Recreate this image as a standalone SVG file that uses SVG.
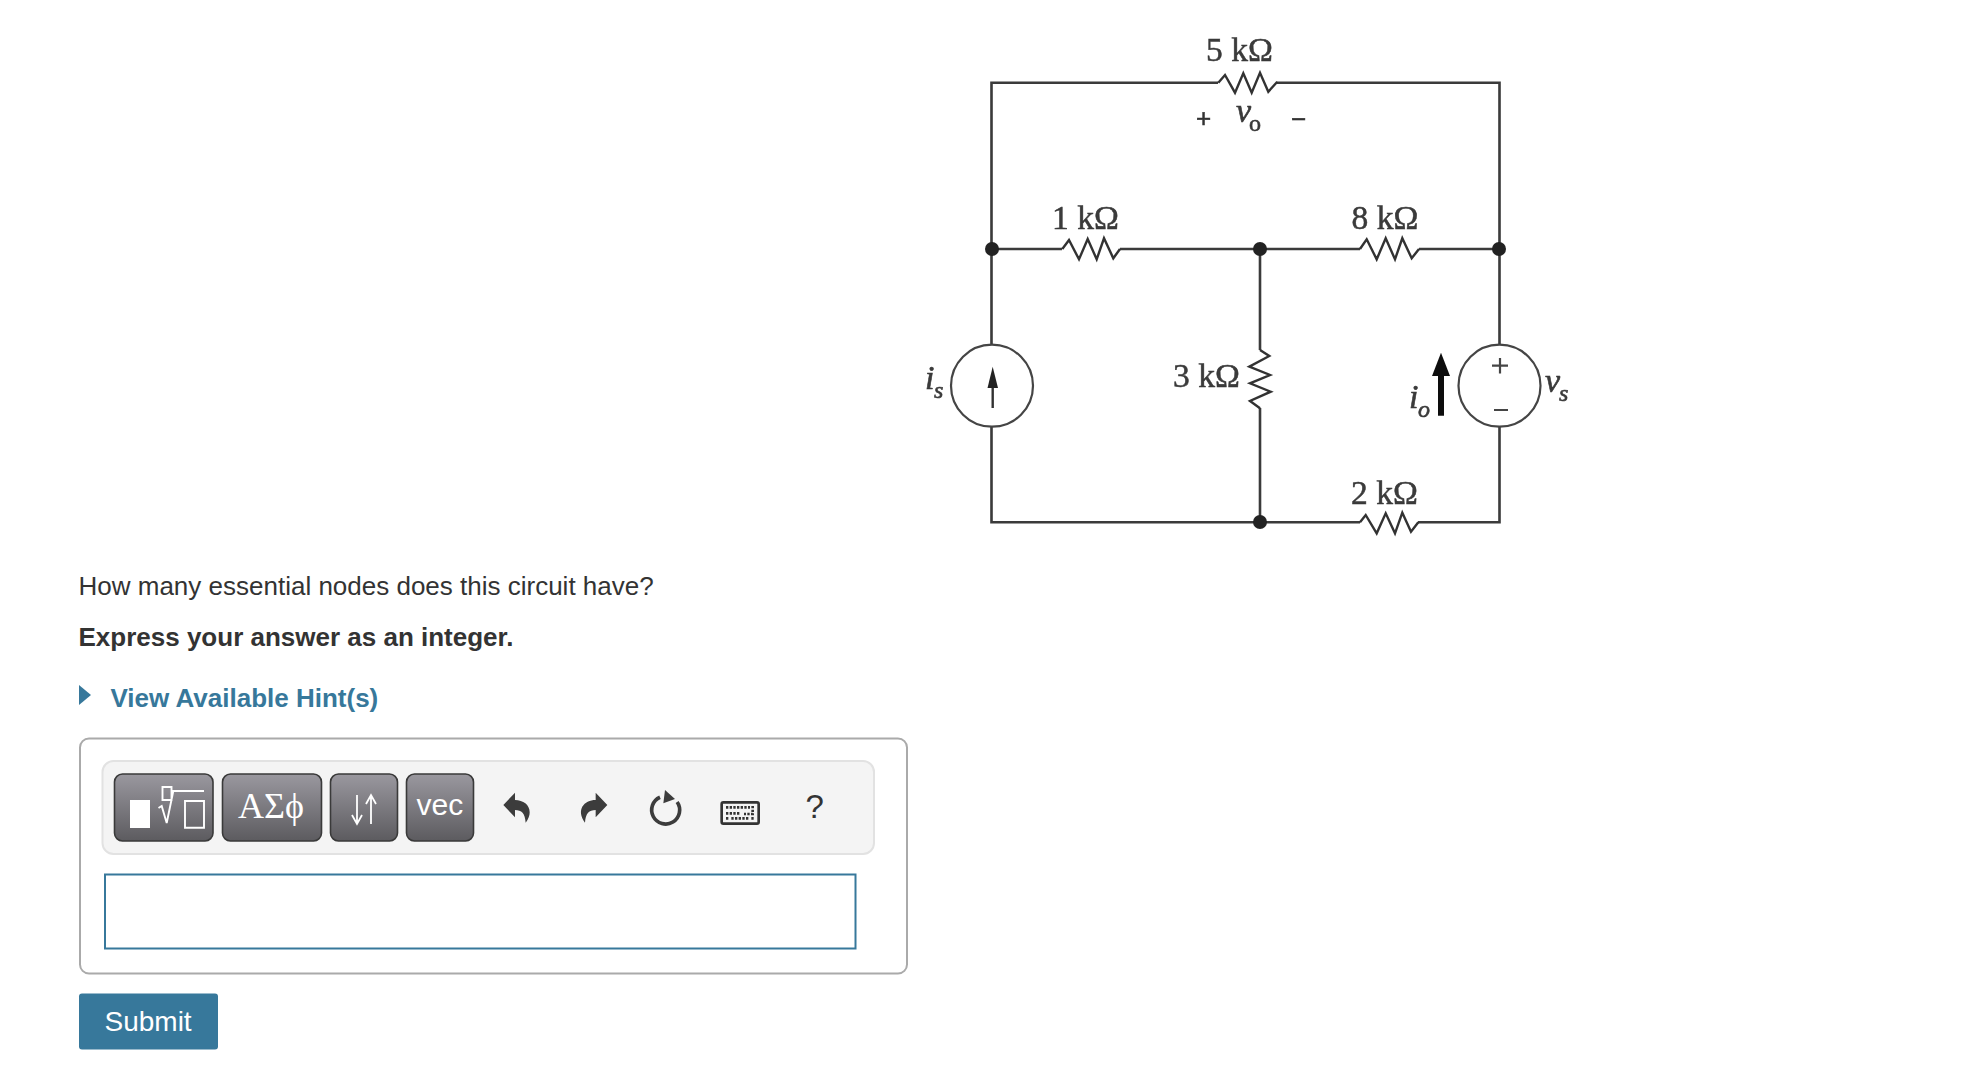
<svg xmlns="http://www.w3.org/2000/svg" width="1984" height="1072" viewBox="0 0 1984 1072">
<style>
text{font-family:"Liberation Sans",Arial,sans-serif}
.w{fill:none;stroke:#3a3a3a;stroke-width:2.6;stroke-linejoin:miter}
.r{fill:none;stroke:#333;stroke-width:2.4;stroke-linejoin:miter}
.c{fill:#fff;stroke:#444;stroke-width:2.2}
.j{fill:#222}
.l{font-family:"Liberation Serif",serif;font-size:33.5px;fill:#3a3a3a;stroke:#3a3a3a;stroke-width:.5}
.v{font-family:"Liberation Serif",serif;font-style:italic;font-size:34px;fill:#3a3a3a;stroke:#3a3a3a;stroke-width:.6}
.s{font-family:"Liberation Serif",serif;font-style:italic;font-size:24px;fill:#3a3a3a;stroke:#3a3a3a;stroke-width:.6}
.p{font-size:26px;fill:#333}
.btn{fill:url(#g);stroke:#3a3a3a;stroke-width:1.6}
.ico{fill:#3c3c3c}
</style>
<defs>
<linearGradient id="g" x1="0" y1="0" x2="0" y2="1"><stop offset="0" stop-color="#9a989f"/><stop offset="1" stop-color="#5c5b5f"/></linearGradient>
<filter id="soft" x="-5%" y="-5%" width="110%" height="110%"><feGaussianBlur stdDeviation="0.5"/></filter>
</defs>
<rect width="1984" height="1072" fill="#fff"/>
<g filter="url(#soft)">
<g id="connectors">
<path class="w" d="M991.5 344.7V82.7H1218M1277 82.7H1499.5V344.7M991.5 249H1062M1120 249H1360M1419 249H1499.5M1260 249V350M1260 408V522.3M991.5 426.7V522.3H1360M1418 522.3H1499.5V426.7"/>
</g>
<g id="r5k"><path class="r" d="M1218.3 82.7L1225 75L1235 92.7L1243.3 73.3L1251.7 92.7L1260 72.7L1268.3 91.7L1277.3 81.7"/><text class="l" x="1206" y="61">5 kΩ</text></g>
<g id="r1k"><path class="r" d="M1062.3 249L1069 240L1079 259.3L1087.7 239L1096.7 259.3L1104 238.3L1113.3 258.3L1120 249"/><text class="l" x="1052" y="229">1 kΩ</text></g>
<g id="r8k"><path class="r" d="M1360 249L1366.7 239.3L1376.7 259.3L1385.7 238.3L1395 259.3L1402.3 238.3L1411.7 258.3L1419 249"/><text class="l" x="1351.5" y="229">8 kΩ</text></g>
<g id="r3k"><path class="r" d="M1260 350L1269.3 356L1249.3 366.7L1270 375L1250 383.3L1270.7 391.7L1250 401L1260 408.3"/><text class="l" x="1173" y="387">3 kΩ</text></g>
<g id="r2k"><path class="r" d="M1360 522.3L1365.7 515L1376.7 533.3L1385.7 513.3L1395 533.3L1402.3 512.7L1411 531.7L1418.3 522.3"/><text class="l" x="1351" y="504">2 kΩ</text></g>
<g id="vo"><text class="v" x="1236" y="122">v</text><text class="s" x="1249" y="131" style="font-style:normal">o</text><text class="p" x="1196" y="127" style="font-size:26px;stroke:#333;stroke-width:.5">+</text><text class="p" x="1291" y="128" style="font-size:26px;stroke:#333;stroke-width:.5">−</text></g>
<g id="is"><circle class="c" cx="992" cy="385.700" r="41"/><path d="M992.700 408V385" stroke="#333" stroke-width="2.400" fill="none"/><path class="j" d="M992.700 366.700L998 388H987.500Z"/><text class="v" x="925" y="389">i</text><text class="s" x="934" y="398">s</text></g>
<g id="vs"><circle class="c" cx="1499.500" cy="385.700" r="41"/><path d="M1492 365.700H1508M1500 358V373.500M1494 410H1508" stroke="#444" stroke-width="2.200" fill="none"/><text class="v" x="1545" y="392">v</text><text class="s" x="1559" y="401">s</text></g>
<g id="io"><path fill="#111" d="M1438 415.700V376H1432L1441 352.700L1450 376H1444V415.700Z"/><text class="v" x="1409" y="408">i</text><text class="s" x="1418" y="417">o</text></g>
<circle id="n1" class="j" cx="992" cy="249" r="7"/>
<circle id="n2" class="j" cx="1260" cy="249" r="7"/>
<circle id="n3" class="j" cx="1499" cy="249" r="7"/>
<circle id="n4" class="j" cx="1260" cy="522" r="7"/>
</g>
<g id="question">
<text class="p" x="78.500" y="594.500">How many essential nodes does this circuit have?</text>
<text class="p" x="78.500" y="645.500" font-weight="bold">Express your answer as an integer.</text>
<path d="M79 685L91 695L79 705Z" fill="#37789b"/>
<text x="110.500" y="706.500" font-size="26" font-weight="bold" fill="#37789b">View Available Hint(s)</text>
</g>
<g id="frame"><rect x="80" y="738.500" width="827" height="235" rx="9" fill="#fff" stroke="#aaa" stroke-width="2"/></g>
<g id="toolbar">
<rect x="102.500" y="761" width="771.500" height="93" rx="11" fill="#f4f4f4" stroke="#e2e2e2" stroke-width="2"/>
<g id="btn-math"><rect class="btn" x="114.500" y="774" width="98.500" height="67" rx="8"/><rect x="130" y="800" width="20" height="28" fill="#fff"/><path d="M162.500 787H171.500V800H162.500ZM158.500 808L161.700 806L166.700 823L173.300 791H204M185 801H204V827.700H185Z" fill="none" stroke="#fff" stroke-width="1.900"/></g>
<g id="btn-greek"><rect class="btn" x="222.500" y="774" width="99" height="67" rx="8"/><text x="238" y="817.500" font-size="36" fill="#fff" style="font-family:'Liberation Serif',serif">ΑΣϕ</text></g>
<g id="btn-arrows"><rect class="btn" x="330.500" y="774" width="67" height="67" rx="8"/><path d="M357 795V823M352 815L357 824L362 815M371 824V796M366 804L371 795L376 804" fill="none" stroke="#fff" stroke-width="1.800"/></g>
<g id="btn-vec"><rect class="btn" x="406.500" y="774" width="67" height="67" rx="8"/><text x="416.500" y="815" font-size="30" fill="#fff">vec</text></g>
<g id="icons" transform="translate(480 730) scale(.33333)">
<path id="undo" class="ico" d="M70 225L105 188V210C140 210 165 240 137 278C135 250 125 240 105 240V262Z"/>
<path id="redo" class="ico" d="M382 225L347 188V210C312 210 287 240 315 278C317 250 327 240 347 240V262Z"/>
<g id="refresh"><path d="M591.400 215.900A42 42 0 1 1 540 201.600" fill="none" stroke="#3c3c3c" stroke-width="11"/><path class="ico" d="M555 180L585 207L550 220Z"/></g>
<g id="keyboard"><rect x="725" y="217" width="111" height="64" rx="5" fill="none" stroke="#333" stroke-width="8"/><path d="M738 232H810M738 250H780M818 228V252H792M738 265H746M754 265H806M814 265H824" fill="none" stroke="#333" stroke-width="8" stroke-dasharray="7 4"/></g>
</g>
<text id="help" x="805.500" y="818" font-size="33" fill="#333">?</text>
</g>
<g id="answer"><rect x="105" y="874.500" width="750.500" height="74" fill="#fff" stroke="#37789b" stroke-width="2"/></g>
<g id="submit"><rect x="79" y="993.500" width="139" height="56" rx="3" fill="#37789b"/><text x="104.500" y="1031" font-size="28" fill="#fff">Submit</text></g>
</svg>
